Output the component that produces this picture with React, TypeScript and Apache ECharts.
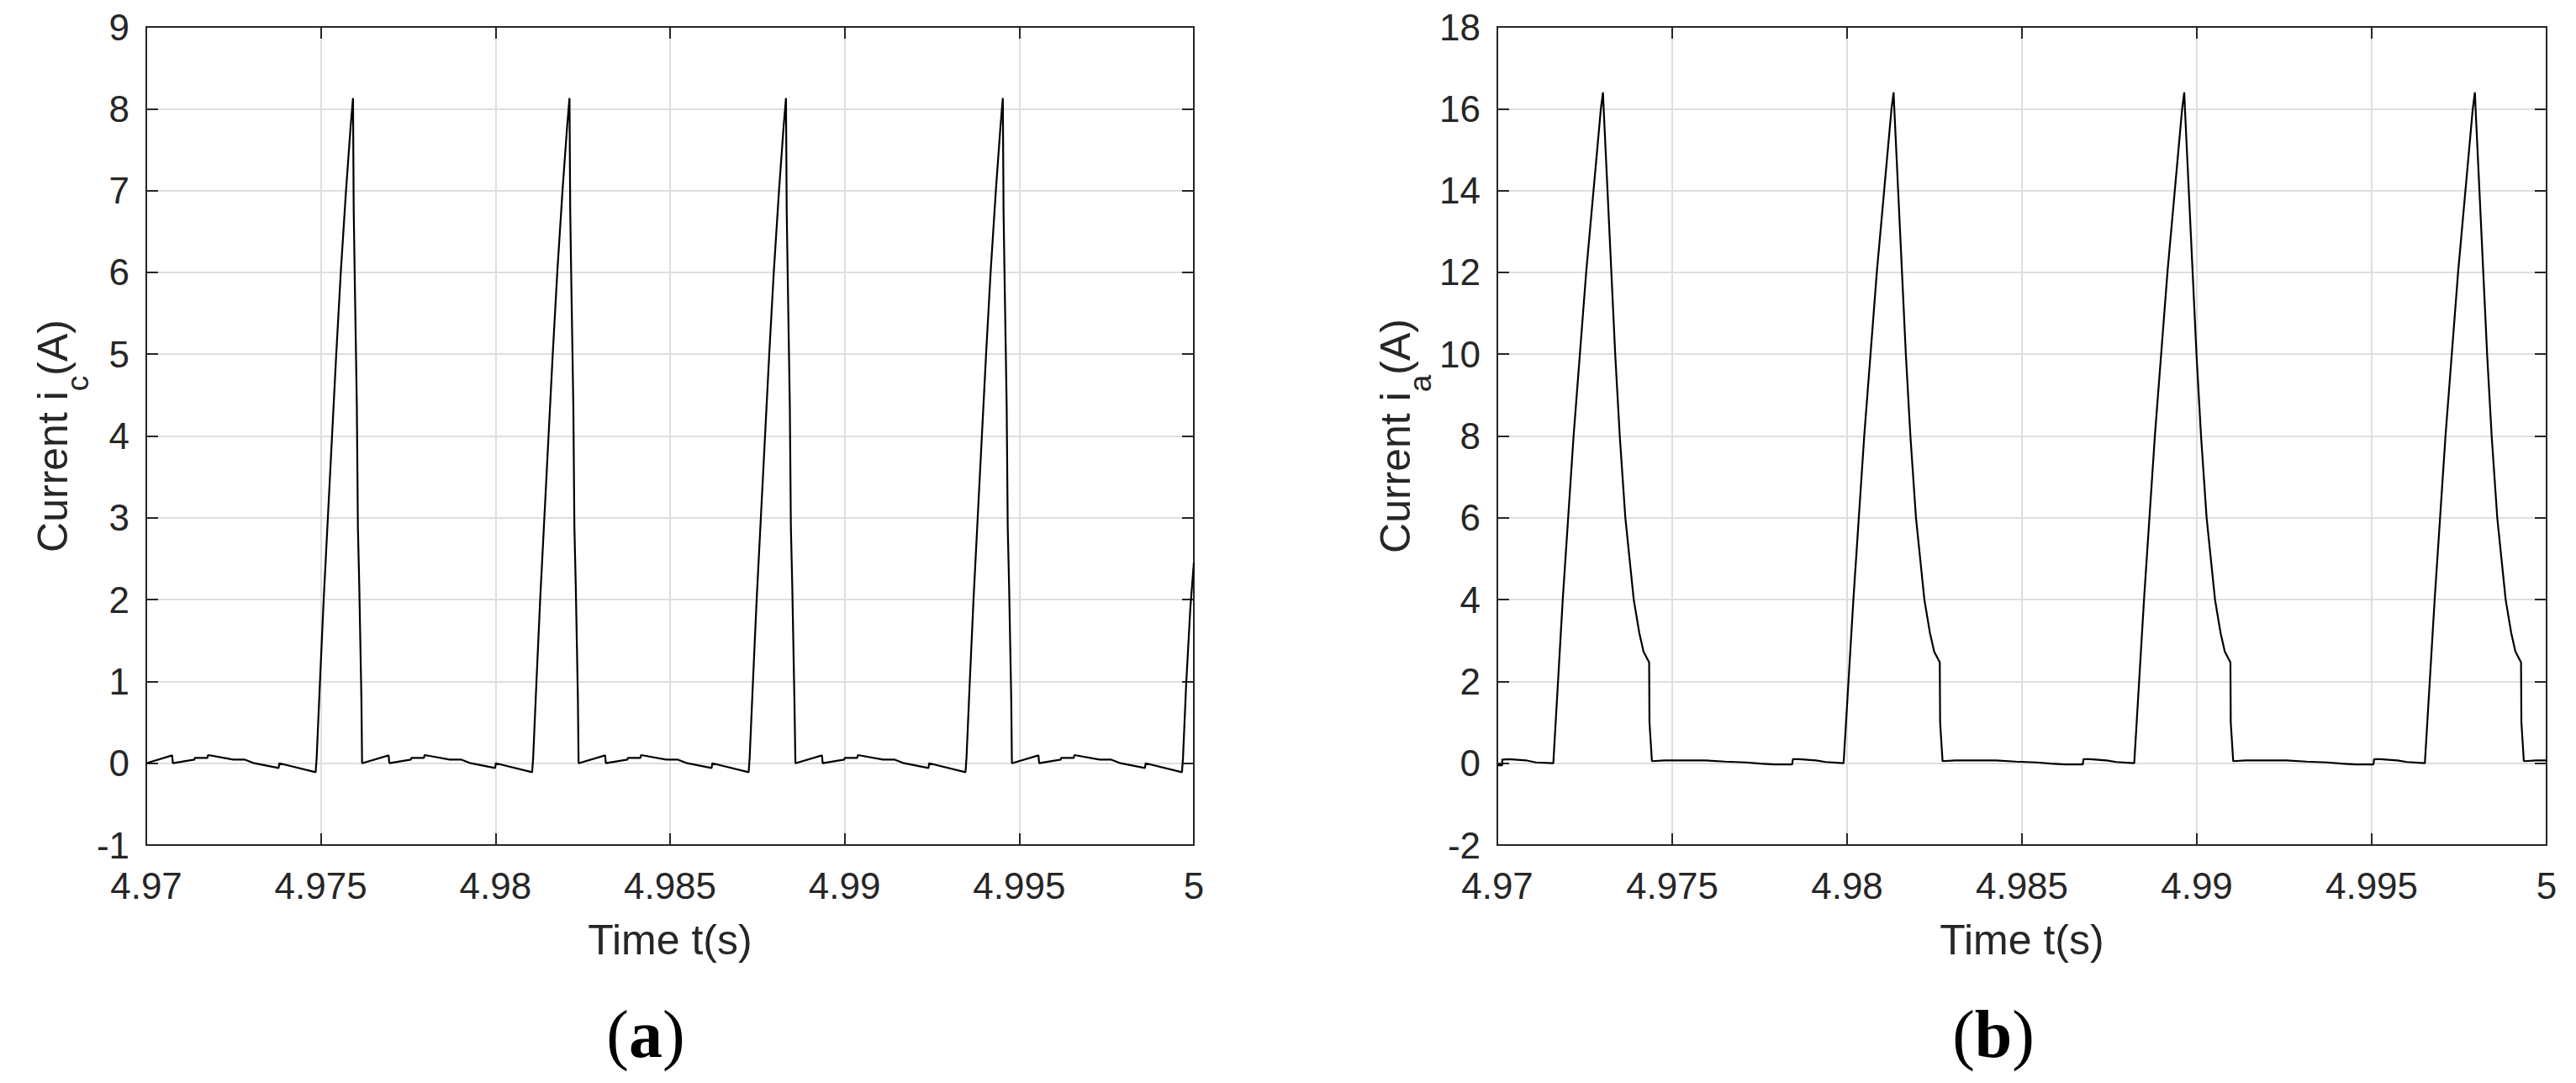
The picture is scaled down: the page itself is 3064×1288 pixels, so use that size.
import React, { useEffect, useRef } from "react";
import * as echarts from "echarts";

// ---- Data: panel (a) current i_c (A) vs time t (s) ----
const icCycle0: [number, number][] = [
  [4.97, 0.0], [4.97074, 0.096], [4.97076, 0.0], [4.97138, 0.045], [4.97139, 0.065], [4.97175, 0.065],
  [4.97177, 0.1], [4.97249, 0.045], [4.97281, 0.045], [4.97309, 0.0], [4.97379, -0.058], [4.97381, 0.0],
  [4.97485, -0.11], [4.97488, 0.07], [4.97497, 0.96], [4.97508, 2.0], [4.9752, 3.0], [4.97532, 4.0],
  [4.97544, 5.0], [4.97557, 6.0], [4.97572, 7.0], [4.97585, 7.77], [4.97592, 8.13], [4.97594, 6.77],
  [4.97597, 5.93], [4.976, 5.15], [4.97603, 4.36], [4.97606, 2.89], [4.9761, 2.16], [4.97613, 1.48], [4.97616, 0.8],
];
const icCycle1: [number, number][] = [
  [4.97618, 0.0], [4.97694, 0.096], [4.97696, 0.0], [4.97758, 0.045], [4.97759, 0.065], [4.97795, 0.065],
  [4.97797, 0.1], [4.97869, 0.045], [4.97901, 0.045], [4.97929, 0.0], [4.97999, -0.058], [4.98001, 0.0],
  [4.98105, -0.11], [4.98108, 0.07], [4.98117, 0.96], [4.98128, 2.0], [4.9814, 3.0], [4.98152, 4.0],
  [4.98164, 5.0], [4.98177, 6.0], [4.98192, 7.0], [4.98205, 7.77], [4.98212, 8.13], [4.98214, 6.77],
  [4.98217, 5.93], [4.9822, 5.15], [4.98223, 4.36], [4.98226, 2.89], [4.9823, 2.16], [4.98233, 1.48], [4.98236, 0.8],
];
const icCycle2: [number, number][] = [
  [4.98238, 0.0], [4.98314, 0.096], [4.98316, 0.0], [4.98378, 0.045], [4.98379, 0.065], [4.98415, 0.065],
  [4.98417, 0.1], [4.98489, 0.045], [4.98521, 0.045], [4.98549, 0.0], [4.98619, -0.058], [4.98621, 0.0],
  [4.98725, -0.11], [4.98728, 0.07], [4.98737, 0.96], [4.98748, 2.0], [4.9876, 3.0], [4.98772, 4.0],
  [4.98784, 5.0], [4.98797, 6.0], [4.98812, 7.0], [4.98825, 7.77], [4.98832, 8.13], [4.98834, 6.77],
  [4.98837, 5.93], [4.9884, 5.15], [4.98843, 4.36], [4.98846, 2.89], [4.9885, 2.16], [4.98853, 1.48], [4.98856, 0.8],
];
const icCycle3: [number, number][] = [
  [4.98859, 0.0], [4.98935, 0.096], [4.98937, 0.0], [4.98999, 0.045], [4.99, 0.065], [4.99036, 0.065],
  [4.99038, 0.1], [4.9911, 0.045], [4.99142, 0.045], [4.9917, 0.0], [4.9924, -0.058], [4.99242, 0.0],
  [4.99346, -0.11], [4.99349, 0.07], [4.99358, 0.96], [4.99369, 2.0], [4.99381, 3.0], [4.99393, 4.0],
  [4.99405, 5.0], [4.99418, 6.0], [4.99433, 7.0], [4.99446, 7.77], [4.99453, 8.13], [4.99455, 6.77],
  [4.99458, 5.93], [4.99461, 5.15], [4.99464, 4.36], [4.99467, 2.89], [4.99471, 2.16], [4.99474, 1.48], [4.99477, 0.8],
];
const icCycle4: [number, number][] = [
  [4.99479, 0.0], [4.99555, 0.096], [4.99557, 0.0], [4.99619, 0.045], [4.9962, 0.065], [4.99656, 0.065],
  [4.99658, 0.1], [4.9973, 0.045], [4.99762, 0.045], [4.9979, 0.0], [4.9986, -0.058], [4.99862, 0.0],
  [4.99966, -0.11], [4.99969, 0.07], [4.99978, 0.96], [4.9999, 1.9], [5.0, 2.45],
];

// ---- Data: panel (b) current i_a (A) vs time t (s) ----
const iaLead: [number, number][] = [
  [4.97, -0.05], [4.97014, -0.05], [4.97014, 0.09], [4.97034, 0.1], [4.97082, 0.07], [4.9711, 0.02], [4.97158, 0.0],
];
const iaCycle0: [number, number][] = [
  [4.9716, 0], [4.97187, 4], [4.97218, 8], [4.97254, 12], [4.97296, 16],
  [4.97302, 16.4], [4.97304, 16], [4.97315, 14], [4.97326, 12], [4.97337, 10], [4.9735, 8], [4.97366, 6], [4.9739, 4],
  [4.97406, 3.18], [4.97418, 2.73], [4.9743, 2.53], [4.97434, 2.47], [4.97435, 1.0], [4.97442, 0.05], [4.97478, 0.07],
  [4.97594, 0.07], [4.97651, 0.04], [4.97711, 0.02], [4.97751, -0.01], [4.97791, -0.03], [4.97843, -0.03],
  [4.97845, 0.1], [4.97863, 0.1], [4.97911, 0.07], [4.97939, 0.03], [4.9799, 0.0],
];
const iaCycle1: [number, number][] = [
  [4.97991, 0], [4.98018, 4], [4.98049, 8], [4.98085, 12], [4.98127, 16],
  [4.98133, 16.4], [4.98135, 16], [4.98146, 14], [4.98157, 12], [4.98168, 10], [4.98181, 8], [4.98197, 6], [4.98221, 4],
  [4.98237, 3.18], [4.98249, 2.73], [4.98261, 2.53], [4.98265, 2.47], [4.98266, 1.0], [4.98273, 0.05], [4.98309, 0.07],
  [4.98425, 0.07], [4.98482, 0.04], [4.98542, 0.02], [4.98582, -0.01], [4.98622, -0.03], [4.98674, -0.03],
  [4.98676, 0.1], [4.98694, 0.1], [4.98742, 0.07], [4.9877, 0.03], [4.98821, 0.0],
];
const iaCycle2: [number, number][] = [
  [4.98822, 0], [4.98849, 4], [4.9888, 8], [4.98916, 12], [4.98958, 16],
  [4.98964, 16.4], [4.98966, 16], [4.98977, 14], [4.98988, 12], [4.98999, 10], [4.99012, 8], [4.99028, 6], [4.99052, 4],
  [4.99068, 3.18], [4.9908, 2.73], [4.99092, 2.53], [4.99096, 2.47], [4.99097, 1.0], [4.99104, 0.05], [4.9914, 0.07],
  [4.99256, 0.07], [4.99313, 0.04], [4.99373, 0.02], [4.99413, -0.01], [4.99453, -0.03], [4.99505, -0.03],
  [4.99507, 0.1], [4.99525, 0.1], [4.99573, 0.07], [4.99601, 0.03], [4.99652, 0.0],
];
const iaCycle3: [number, number][] = [
  [4.99653, 0], [4.9968, 4], [4.99711, 8], [4.99747, 12], [4.99789, 16],
  [4.99795, 16.4], [4.99797, 16], [4.99808, 14], [4.99819, 12], [4.9983, 10], [4.99843, 8], [4.99859, 6], [4.99883, 4],
  [4.99899, 3.18], [4.99911, 2.73], [4.99923, 2.53], [4.99927, 2.47], [4.99928, 1.0], [4.99935, 0.05], [4.99971, 0.07],
  [5.0, 0.07],
];

// ---- Axis settings ----
const xRange = { min: 4.97, max: 5, interval: 0.005 };
const yRangeA = { min: -1, max: 9, interval: 1 };
const yRangeB = { min: -2, max: 18, interval: 2 };
const captions = ["a", "b"];

const AX = "#262626";
const GRID = "#dedede";
const SANS = "'Liberation Sans', Arial, Helvetica, sans-serif";
const SERIF = "'Liberation Serif', 'Times New Roman', serif";

const fmtX = (v: number) => String(Number(v.toFixed(3)));

function xAxes(gridIndex: number) {
  const common = {
    type: "value",
    gridIndex,
    min: xRange.min,
    max: xRange.max,
    interval: xRange.interval,
    axisLine: { show: true, onZero: false, lineStyle: { color: AX, width: 2 } },
    axisTick: { show: true, inside: true, length: 14, lineStyle: { color: AX, width: 2 } },
  };
  return [
    {
      ...common,
      position: "bottom",
      axisLabel: { show: true, margin: 26, fontSize: 44, color: AX, fontFamily: SANS, formatter: fmtX },
      splitLine: { show: true, lineStyle: { color: GRID, width: 2 } },
      name: "Time t(s)",
      nameLocation: "middle",
      nameGap: 88,
      nameTextStyle: { fontSize: 50, color: AX, fontFamily: SANS },
    },
    {
      ...common,
      position: "top",
      axisLabel: { show: false },
      splitLine: { show: false },
    },
  ];
}

function yAxes(gridIndex: number, range: { min: number; max: number; interval: number }, sub: string, gap: number) {
  const common = {
    type: "value",
    gridIndex,
    min: range.min,
    max: range.max,
    interval: range.interval,
    axisLine: { show: true, onZero: false, lineStyle: { color: AX, width: 2 } },
    axisTick: { show: true, inside: true, length: 14, lineStyle: { color: AX, width: 2 } },
  };
  return [
    {
      ...common,
      position: "left",
      axisLabel: { show: true, margin: 20, fontSize: 44, color: AX, fontFamily: SANS },
      splitLine: { show: true, lineStyle: { color: GRID, width: 2 } },
      name: `{n|Current i}{s|${sub}}{n|(A)}`,
      nameLocation: "middle",
      nameGap: gap,
      nameTextStyle: {
        color: AX,
        fontFamily: SANS,
        rich: {
          n: { fontSize: 50, lineHeight: 50, verticalAlign: "top", color: AX, fontFamily: SANS },
          s: { fontSize: 37, lineHeight: 37, verticalAlign: "top", padding: [36, 0, 0, 0], color: AX, fontFamily: SANS },
        },
      },
    },
    {
      ...common,
      position: "right",
      axisLabel: { show: false },
      splitLine: { show: false },
    },
  ];
}

export default function App() {
  const ref = useRef<HTMLDivElement>(null);
  useEffect(() => {
    if (!ref.current) return;
    const chart = echarts.init(ref.current, null, { renderer: "svg" });
    const icData = [...icCycle0, ...icCycle1, ...icCycle2, ...icCycle3, ...icCycle4];
    const iaData = [...iaLead, ...iaCycle0, ...iaCycle1, ...iaCycle2, ...iaCycle3];
    chart.setOption({
      animation: false,
      backgroundColor: "#ffffff",
      grid: [
        { left: 174, top: 32, width: 1246, height: 973 },
        { left: 1781, top: 32, width: 1248, height: 973 },
      ],
      xAxis: [...xAxes(0), ...xAxes(1)],
      yAxis: [...yAxes(0, yRangeA, "c", 73), ...yAxes(1, yRangeB, "a", 83)],
      series: [
        {
          type: "line",
          xAxisIndex: 0,
          yAxisIndex: 0,
          data: icData,
          showSymbol: false,
          symbol: "none",
          lineStyle: { color: "#000000", width: 2.2 },
          clip: true,
        },
        {
          type: "line",
          xAxisIndex: 2,
          yAxisIndex: 2,
          data: iaData,
          showSymbol: false,
          symbol: "none",
          lineStyle: { color: "#000000", width: 2.2 },
          clip: true,
        },
      ],
      graphic: [
        {
          type: "text",
          x: 768,
          y: 1230,
          style: {
            text: `{p|(}{b|${captions[0]}}{p|)}`,
            align: "center",
            verticalAlign: "middle",
            rich: {
              p: { fontSize: 80, fontFamily: SERIF, fill: "#000" },
              b: { fontSize: 80, fontFamily: SERIF, fontWeight: "bold", fill: "#000" },
            },
          },
        },
        {
          type: "text",
          x: 2371,
          y: 1230,
          style: {
            text: `{p|(}{b|${captions[1]}}{p|)}`,
            align: "center",
            verticalAlign: "middle",
            rich: {
              p: { fontSize: 80, fontFamily: SERIF, fill: "#000" },
              b: { fontSize: 80, fontFamily: SERIF, fontWeight: "bold", fill: "#000" },
            },
          },
        },
      ],
    });
    return () => chart.dispose();
  }, []);
  return (
    <div
      ref={ref}
      style={{ position: "fixed", left: 0, top: 0, width: 3064, height: 1288, background: "#fff" }}
    />
  );
}
